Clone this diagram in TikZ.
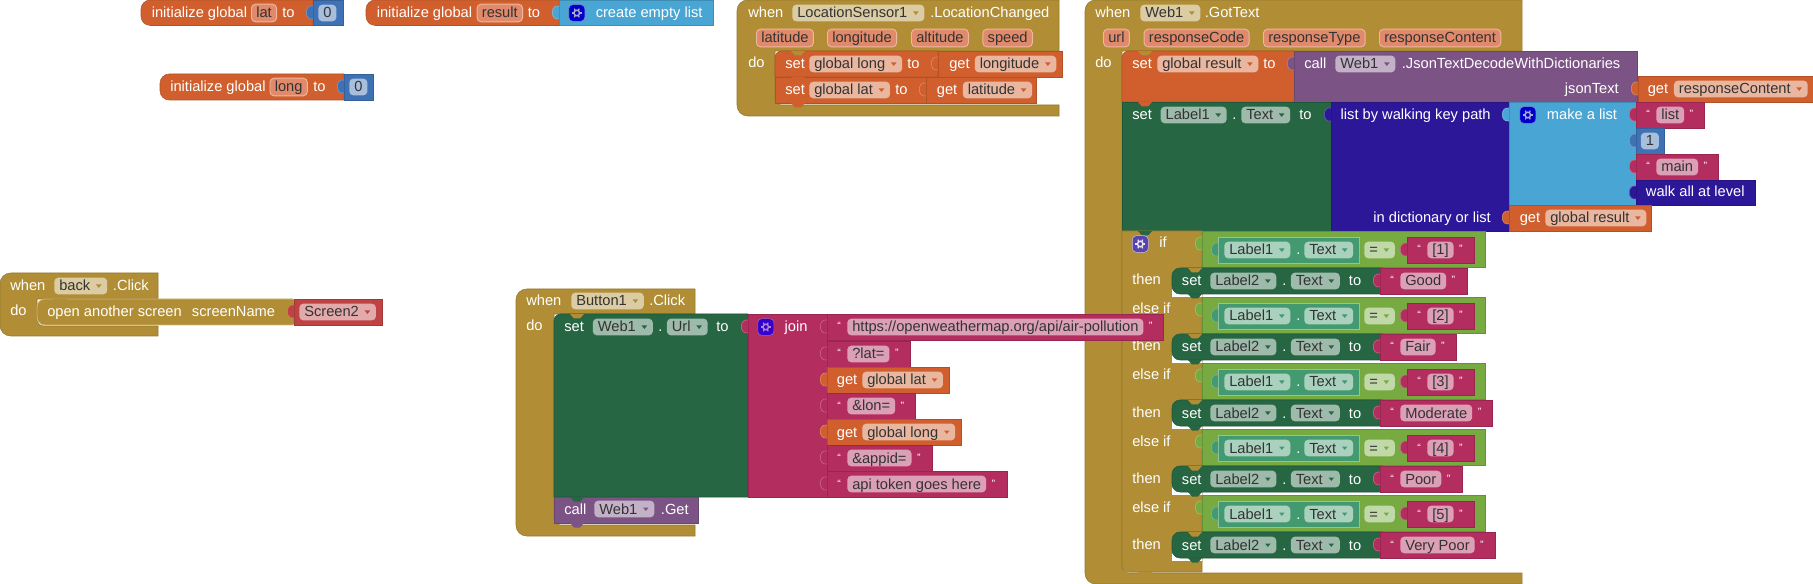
\documentclass[tikz,border=0pt]{standalone}
\usepackage{fontspec}
\setmainfont{Liberation Sans}
\usepackage{xcolor}
\definecolor{hatbrown}{HTML}{B18E35}
\definecolor{varorange}{HTML}{D05F2D}
\definecolor{mathblue}{HTML}{3F71B5}
\definecolor{listblue}{HTML}{49A6D4}
\definecolor{textpink}{HTML}{B32D5E}
\definecolor{compgreen}{HTML}{266643}
\definecolor{callpurple}{HTML}{7C5385}
\definecolor{dictindigo}{HTML}{2D1799}
\definecolor{logicgreen}{HTML}{77AB41}
\definecolor{labelgreen}{HTML}{439970}
\definecolor{ctrlred}{HTML}{BF4343}
\definecolor{prmfill}{HTML}{E08A6B}
\definecolor{prmrim}{HTML}{EDB89F}
\newcommand\blkfont{\fontsize{11pt}{13pt}\selectfont}
\tikzset{
block/.style={fill=#1,draw=#1!85!black,line width=.4pt},
lab/.style={text=white,font=\blkfont,anchor=west,inner sep=0pt,text height=8pt,text depth=.5pt},
fld/.style={fill=white,fill opacity=.55,text opacity=1,text=black!80,font=\blkfont,rounded corners=3pt,anchor=west,inner xsep=3.75pt,inner ysep=0pt,text height=8pt,text depth=.5pt,minimum height=12.5pt},
prm/.style={fld,fill=prmfill,fill opacity=1,draw=prmrim,line width=.7pt,minimum height=13.2pt,inner xsep=3.6pt},
}
\newcommand\blk[6][]{\path[block=#2,#1] (#3,{#4}) rectangle (#5,{#6});}
\newcommand\firstblk[5]{\path[block=#1] (#2,#5) [rounded corners=5pt] -- (#2,#3) [sharp corners] -- (#4,#3) -- (#4,#5) -- cycle;}
\newcommand\initblk[4]{\path[block=varorange] (#3,#2) [rounded corners=7pt] -- (#1,#2) -- (#1,#4) [sharp corners] -- (#3,#4) -- cycle;}
\newcommand\whenblk[7]{\path[block=hatbrown] (#3,#4) -- (#3,#5) -- (#2,#5) [rounded corners=5pt] -- (#2,#6) [sharp corners] -- (#3,#6) -- (#3,#7) [rounded corners=8pt] -- (#1,#7) -- (#1,#4) [sharp corners] -- cycle;}
\newcommand\valtab[3]{\path[fill=#3,draw=#3!70!white,line width=.4pt] (#1,{#2+6}) .. controls (#1-9,{#2+4}) and (#1-9,{#2+21}) .. (#1,{#2+19});}
\newcommand\stmttab[3]{\fill[#3] (#1+16,{#2}) -- (#1+20,{#2+4.5}) -- (#1+26,{#2+4.5}) -- (#1+30,{#2}) -- cycle;}
\newcommand\ddfld[5]{\node[fld] (#1) at (#2,{#3}) {#4\kern9pt};
\fill[#5] ([shift={(-11.5,-1.5)}]#1.east) -- ++(5.5,0) -- ++(-2.75,3.5) -- cycle;}
\newcommand\strblk[5]{\blk{textpink}{#2}{#3}{#4}{#3+26}\valtab{#2}{#3}{textpink}
\node[lab,font=\footnotesize] (#1a) at (#2+10,{#3+11}) {“};
\node[fld] (#1) at (#2+20,{#3+13}) {#5};
\node[lab,font=\footnotesize] (#1b) at ([shift={(5,-2)}]#1.east) {”};}
\newcommand\gearbox[4]{\node[draw=white!65!#4,fill=#4,rounded corners=3pt,minimum width=12pt,minimum height=12.5pt,inner sep=0pt,anchor=west] (#1) at (#2,{#3}) {};
\draw[white!85!#4,line width=1.1pt] (#1.center) circle[radius=2.8];
\foreach \a in {0,60,...,300} \draw[white!85!#4,line width=.9pt] ([shift={(\a:3)}]#1.center) -- ([shift={(\a:5)}]#1.center);}
\begin{document}
\begin{tikzpicture}[x=.75pt,y=-.75pt]
\useasboundingbox (0,0) rectangle (1813,584);
\fill[white] (0,0) rectangle (1813,584);

\initblk{141}{0}{313}{25.5}
\node[lab] (initLat) at (151.5,13) {initialize global};
\node[prm] (latName) at (251,13) {lat};
\node[lab] (toLat) at (282,13) {to};
\blk{mathblue}{313}{0}{343}{25.5}\valtab{313}{0}{mathblue}
\node[fld] (zeroLat) at (318,13) {0};

\initblk{366}{0}{559}{25.5}
\node[lab] (initRes) at (376.5,13) {initialize global};
\node[prm] (resName) at (476.6,13) {result};
\node[lab] (toRes) at (527.5,13) {to};
\blk{listblue}{559}{0}{713}{25.5}\valtab{559}{0}{listblue}
\gearbox{gearEmpty}{568.5}{13}{blue!80!black}
\node[lab] (emptyList) at (595.5,13) {create empty list};

\initblk{160}{74}{344}{100}
\node[lab] (initLong) at (170,87) {initialize global};
\node[prm] (longName) at (269.5,87) {long};
\node[lab] (toLong) at (313,87) {to};
\blk{mathblue}{344}{74}{373}{100}\valtab{344}{74}{mathblue}
\node[fld] (zeroLong) at (349,87) {0};

\whenblk{0}{37}{158}{273}{299}{326}{336}
\node[lab] (whenBack) at (10,286) {when};
\ddfld{backFld}{54}{286}{back}{hatbrown}
\node[lab] (clickBack) at (112.7,286) {.Click};
\node[lab] (doBack) at (10,311) {do};
\path[fill=hatbrown,draw=hatbrown!65!white,line width=.6pt,rounded corners=6pt] (37,299) rectangle (300,325);
\blk{ctrlred}{294}{299}{382}{325}\valtab{294}{299}{ctrlred}
\stmttab{37}{299}{hatbrown}
\node[lab] (openScreen) at (47,312) {open another screen};
\node[lab] (screenName) at (191.7,312) {screenName};
\ddfld{screenFld}{299}{312}{Screen2}{ctrlred}

\whenblk{737}{775}{1059}{0}{51}{105}{116}
\node[lab] (whenLoc) at (748,13) {when};
\ddfld{locFld}{792}{13}{LocationSensor1}{hatbrown}
\node[lab] (locChanged) at (930,13) {.LocationChanged};
\node[prm] (prmLat) at (756,38) {latitude};
\node[prm] (prmLong) at (827,38) {longitude};
\node[prm] (prmAlt) at (911,38) {altitude};
\node[prm] (prmSpeed) at (982.4,38) {speed};
\node[lab] (doLoc) at (748,63) {do};
\firstblk{varorange}{775}{51}{938}{77}
\blk{varorange}{938}{51}{1062}{77}\valtab{938}{51}{varorange}
\stmttab{775}{51}{hatbrown}
\node[lab] (setLong) at (785,64) {set};
\ddfld{longFld}{809}{64}{global long}{varorange}
\node[lab] (toSetLong) at (907,64) {to};
\node[lab] (getLong) at (949,64) {get};
\ddfld{getLongFld}{974.5}{64}{longitude}{varorange}
\blk{varorange}{775}{77}{926}{103}
\blk{varorange}{926}{77}{1036.5}{103}\valtab{926}{77}{varorange}
\stmttab{775}{77}{varorange}\stmttab{775}{103}{varorange}
\node[lab] (setLat) at (785,90) {set};
\ddfld{latFld}{809}{90}{global lat}{varorange}
\node[lab] (toSetLat) at (895,90) {to};
\node[lab] (getLat) at (936.6,90) {get};
\ddfld{getLatFld}{962.5}{90}{latitude}{varorange}

\whenblk{1085}{1122}{1522}{0}{51}{573}{584}
\node[lab] (whenWeb) at (1095,13) {when};
\ddfld{webFld}{1140}{13}{Web1}{hatbrown}
\node[lab] (gotText) at (1204.5,13) {.GotText};
\node[prm] (prmUrl) at (1103,38) {url};
\node[prm] (prmCode) at (1143.6,38) {responseCode};
\node[prm] (prmType) at (1263,38) {responseType};
\node[prm] (prmContent) at (1379,38) {responseContent};
\node[lab] (doWeb) at (1095,63) {do};
\firstblk{varorange}{1122}{51}{1294}{102}
\stmttab{1122}{51}{hatbrown}
\node[lab] (setRes) at (1132,64) {set};
\ddfld{resFld}{1157}{64}{global result}{varorange}
\node[lab] (toSetRes) at (1263,64) {to};
\blk{callpurple}{1294}{51}{1637}{102}\valtab{1294}{51}{callpurple}
\node[lab] (callWeb) at (1304,64) {call};
\ddfld{callFld}{1335}{64}{Web1}{callpurple}
\node[lab] (decode) at (1401.6,64) {.JsonTextDecodeWithDictionaries};
\node[lab,anchor=east] (jsonText) at (1619,89) {jsonText};
\blk{varorange}{1638}{76}{1813}{102}\valtab{1638}{76}{varorange}
\node[lab] (getContent) at (1647.5,89) {get};
\ddfld{contentFld}{1673.7}{89}{responseContent}{varorange}

\blk{compgreen}{1122}{102}{1331}{231}
\stmttab{1122}{102}{varorange}
\node[lab] (setLabel) at (1132,115) {set};
\ddfld{labelFld}{1160.4}{115}{Label1}{compgreen}
\node[lab] (dotLabel) at (1232,115) {.};
\ddfld{textFld}{1241}{115}{Text}{compgreen}
\node[lab] (toLabel) at (1299,115) {to};
\blk{dictindigo}{1331}{102}{1509}{231}\valtab{1331}{102}{dictindigo}
\node[lab] (walkPath) at (1340.4,115) {list by walking key path};
\node[lab,anchor=east] (inDict) at (1491,218) {in dictionary or list};
\blk{listblue}{1509}{102}{1636}{205}\valtab{1509}{102}{listblue}
\gearbox{gearList}{1519.5}{115}{blue!80!black}
\node[lab] (makeList) at (1546.6,115) {make a list};
\strblk{listStr}{1636}{102}{1704}{list}
\blk{mathblue}{1636}{128}{1664}{154}\valtab{1636}{128}{mathblue}
\node[fld] (oneFld) at (1640.5,141) {1};
\strblk{mainStr}{1636}{154}{1718}{main}
\blk{dictindigo}{1636}{180}{1755}{205}\valtab{1636}{180}{dictindigo}
\node[lab] (walkAll) at (1645.7,192) {walk all at level};
\blk{varorange}{1509}{205}{1651}{231}\valtab{1509}{205}{varorange}
\node[lab] (getRes) at (1519.5,218) {get};
\ddfld{getResFld}{1545}{218}{global result}{varorange}

\path[block=hatbrown] (1202,231) -- (1122,231) [rounded corners=5pt] -- (1122,572) [sharp corners] -- (1202,572) -- cycle;
\stmttab{1122}{231}{compgreen}\stmttab{1122}{572}{hatbrown}
\gearbox{gearIf}{1132}{244}{dictindigo!80!white}
\foreach \Y/\val/\res/\xe [count=\k] in {231/1/Good/1467,297/2/Fair/1456,363/3/Moderate/1492,429/4/Poor/1462,495/5/Very Poor/1495}{
\blk{logicgreen}{1202}{\Y}{1485}{\Y+36}\valtab{1202}{\Y}{logicgreen}
\ifnum\k=1 \node[lab] (ifLab) at (1159,{\Y+12}) {if};
\else \node[lab] (elif\k) at (1132,{\Y+12}) {else if};
\fi
\node[lab] (then\k) at (1132,{\Y+49}) {then};
\path[block=labelgreen,draw=white!40!labelgreen] (1218,{\Y+6}) rectangle (1359,{\Y+32});
\valtab{1218}{\Y+6}{labelgreen}
\ddfld{getLabel\k}{1224}{\Y+19}{Label1}{labelgreen}
\node[lab] (getDot\k) at (1296,{\Y+19}) {.};
\ddfld{getText\k}{1304}{\Y+19}{Text}{labelgreen}
\ddfld{eqFld\k}{1364}{\Y+19}{=}{logicgreen}
\strblk{cmpStr\k}{1407}{\Y+6}{1474}{[\val]}
\fill[white] (1172,{\Y+58}) rectangle (1202,{\Y+66});
\path[block=compgreen,rounded corners=6pt] (1172,{\Y+37}) rectangle (1390,{\Y+63});
\stmttab{1172}{\Y+37}{hatbrown}\stmttab{1172}{\Y+63}{compgreen}
\node[lab] (setOut\k) at (1181.7,{\Y+50}) {set};
\ddfld{outLabel\k}{1210}{\Y+50}{Label2}{compgreen}
\node[lab] (outDot\k) at (1282,{\Y+50}) {.};
\ddfld{outText\k}{1290.6}{\Y+50}{Text}{compgreen}
\node[lab] (toOut\k) at (1348.7,{\Y+50}) {to};
\strblk{outStr\k}{1380}{\Y+37}{\xe}{\res}
}

\whenblk{516}{554}{695}{289}{314}{525}{536}
\node[lab] (whenBtn) at (526,301) {when};
\ddfld{btnFld}{571}{301}{Button1}{hatbrown}
\node[lab] (clickBtn) at (649,301) {.Click};
\node[lab] (doBtn) at (526,326) {do};
\firstblk{compgreen}{554}{314}{748}{497}
\stmttab{554}{314}{hatbrown}
\node[lab] (setUrl) at (564,327) {set};
\ddfld{urlWeb}{592.5}{327}{Web1}{compgreen}
\node[lab] (dotUrl) at (658,327) {.};
\ddfld{urlFld}{666.6}{327}{Url}{compgreen}
\node[lab] (toUrl) at (716,327) {to};
\blk{textpink}{748}{314}{827}{497}\valtab{748}{314}{textpink}
\gearbox{gearJoin}{757.5}{327}{blue!60!violet}
\node[lab] (joinLab) at (784.4,327) {join};
\strblk{urlStr}{827}{314}{1163}{https://openweathermap.org/api/air-pollution}
\strblk{latStr}{827}{341}{910}{?lat=}
\blk{varorange}{827}{367}{949}{393}\valtab{827}{367}{varorange}
\node[lab] (getGLat) at (836.6,380) {get};
\ddfld{gLatFld}{862}{380}{global lat}{varorange}
\strblk{lonStr}{827}{393}{915}{\&lon=}
\blk{varorange}{827}{419}{961}{445}\valtab{827}{419}{varorange}
\node[lab] (getGLong) at (836.6,432) {get};
\ddfld{gLongFld}{862}{432}{global long}{varorange}
\strblk{appStr}{827}{445}{932}{\&appid=}
\strblk{tokenStr}{827}{471}{1007}{api token goes here}
\blk{callpurple}{554}{497}{698.5}{523}
\stmttab{554}{497}{compgreen}\stmttab{554}{523}{callpurple}
\node[lab] (callGet) at (564,509) {call};
\ddfld{getWeb}{594}{509}{Web1}{callpurple}
\node[lab] (getLab) at (660.7,509) {.Get};
\end{tikzpicture}
\end{document}
